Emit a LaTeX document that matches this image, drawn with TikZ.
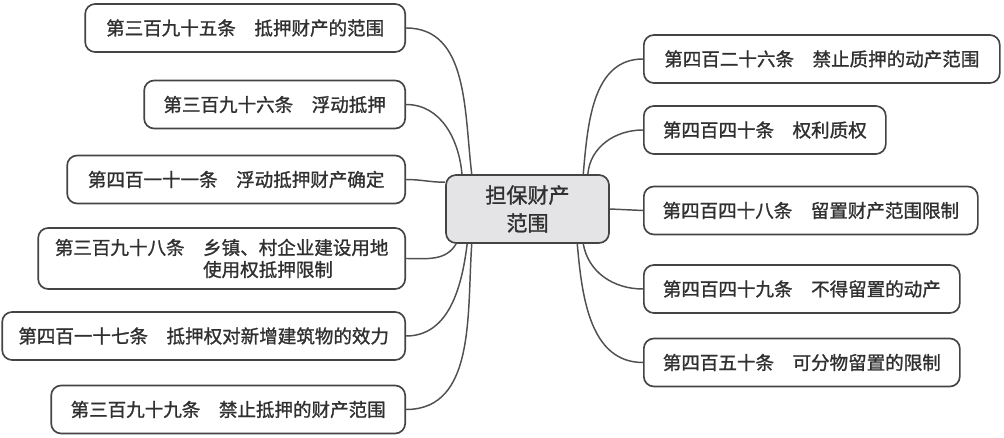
\documentclass[tikz,border=0pt]{standalone}
\usepackage{fontspec}
\setmainfont{Noto Sans CJK SC}[UprightFeatures={FakeBold=1.2}]
\usepackage{tikz}
\usepackage{xcolor}
\definecolor{borde}{HTML}{444444}
\definecolor{linea}{HTML}{505050}
\definecolor{relleno}{HTML}{E4E4E6}
\definecolor{texto}{HTML}{303030}

\begin{document}
\begin{tikzpicture} %Mapa garantia
      [
      x=0.75pt, y=-0.75pt,
      caja/.style={rectangle, rounded corners=7.5pt, draw=borde, line width=1.25pt, text=texto,
        minimum height=36pt, inner sep=0pt, font=\fontsize{13.9pt}{16.5pt}\selectfont},
      izq/.style={caja, anchor=east},
      der/.style={caja, anchor=west},
      centro/.style={caja, fill=relleno, align=center, minimum width=122.25pt, minimum height=51pt,
        font=\fontsize{15.8pt}{21pt}\selectfont}
      ]
      \useasboundingbox (0,0) rectangle (1004,438);
      \node[centro] (c) at (527.5,209) {担保财产\\范围};
      \node[izq, minimum width=240pt] (l1) at (406,28) {第三百九十五条　抵押财产的范围};
      \node[izq, minimum width=195.75pt] (l2) at (406,104.5) {第三百九十六条　浮动抵押};
      \node[izq, minimum width=253.5pt] (l3) at (406,179.5) {第四百一十一条　浮动抵押财产确定};
      \node[izq, minimum width=275.25pt, minimum height=45.75pt, align=left] (l4) at (406,258.5)
        {第三百九十八条　乡镇、村企业建设用地\\\hphantom{第三百九十八条　}使用权抵押限制};
      \node[izq, minimum width=302.25pt] (l5) at (406,336) {第四百一十七条　抵押权对新增建筑物的效力};
      \node[izq, minimum width=265.5pt] (l6) at (406,409.5) {第三百九十九条　禁止抵押的财产范围};
      \node[der, minimum width=267pt] (r1) at (643,59) {第四百二十六条　禁止质押的动产范围};
      \node[der, minimum width=181.5pt] (r2) at (643,130) {第四百四十条　权利质权};
      \node[der, minimum width=250.5pt] (r3) at (643,210.5) {第四百四十八条　留置财产范围限制};
      \node[der, minimum width=237pt] (r4) at (643,289) {第四百四十九条　不得留置的动产};
      \node[der, minimum width=237pt] (r5) at (643,362.5) {第四百五十条　可分物留置的限制};
      \begin{scope}[draw = linea, line width=1.1pt]
        \draw (l1.east) to[out=0, in=97] (c.148);
        \draw (l2.east) to[out=0, in=95] (c.152.6);
        \draw (l3.east) to[out=0, in=180] (c.162.3);
        \draw (l4.east) to[out=0, in=240] (c.206);
        \draw (l5.east) to[out=0, in=263] (c.210.5);
        \draw (l6.east) to[out=0, in=266] (c.212);
      \end{scope}
      \begin{scope}[draw = linea, line width=1.1pt]
        \draw (c.32.9) to[out=85, in=180] (r1.west);
        \draw (c.30) to[out=85, in=180] (r2.west);
        \draw (c.east) -- (r3.west);
        \draw (c.-32) to[out=280, in=180] (r4.west);
        \draw (c.-35) to[out=275, in=180] (r5.west);
      \end{scope}
\end{tikzpicture}
\end{document}
